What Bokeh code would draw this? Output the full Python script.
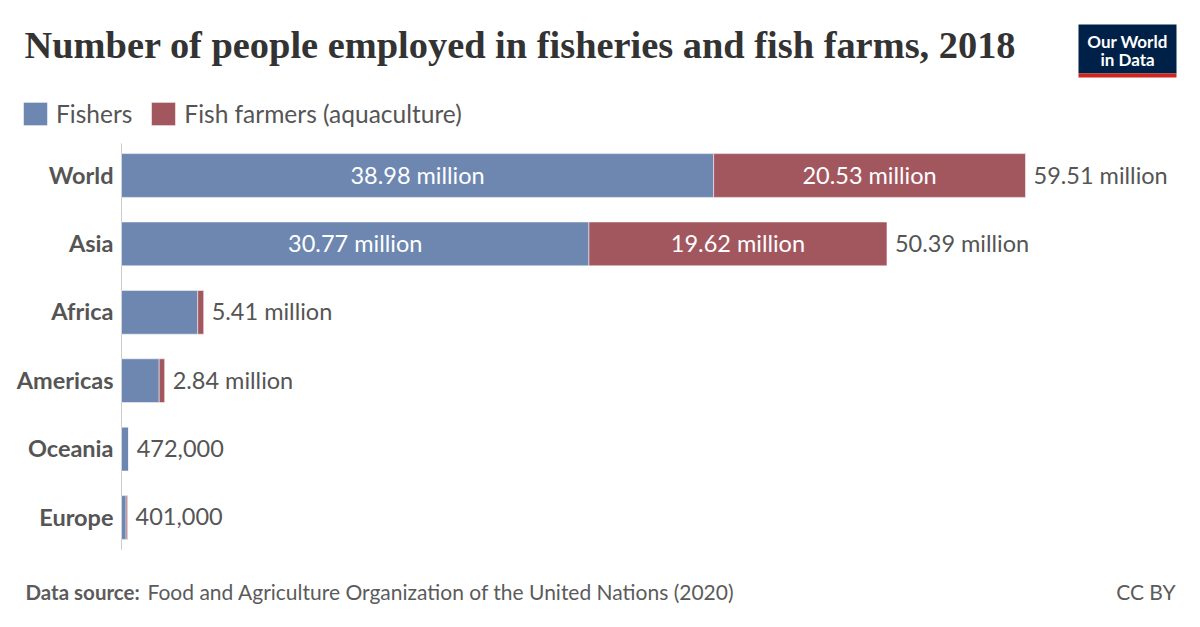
from bokeh.plotting import figure
from bokeh.models import ColumnDataSource, Range1d, Legend, LegendItem
from bokeh.core.properties import value
from bokeh.embed import file_html
from bokeh.resources import INLINE

# Employment in fisheries and aquaculture, 2018 (millions of people)
regions = ["World", "Asia", "Africa", "Americas", "Oceania", "Europe"]
fishers = [38.98, 30.77, 5.02, 2.48, 0.465, 0.305]
fish_farmers = [20.53, 19.62, 0.39, 0.36, 0.007, 0.096]

series = ["fishers", "fish_farmers"]
series_names = ["Fishers", "Fish farmers (aquaculture)"]
colors = ["#6D87B1", "#A2575F"]

BODY = value("Lato")
TEXT_GREY = "#555555"
FOOT_GREY = "#5b5b5b"
LABEL_SIZE = "23.5px"


def fmt(v):
    if v >= 1:
        return f"{v:.2f} million"
    return f"{round(v * 1e6):,}"


totals = [a + b for a, b in zip(fishers, fish_farmers)]
rows = list(range(len(regions)))
src = ColumnDataSource(dict(
    row=rows,
    region=regions,
    fishers=fishers,
    fish_farmers=fish_farmers,
    total=totals,
    total_txt=[fmt(t) for t in totals],
))

# inner labels only for segments wide enough to hold them
inner = dict(row=[], x=[], txt=[])
for i, a, b in zip(rows, fishers, fish_farmers):
    for start, val in ((0.0, a), (a, b)):
        if val > 10:
            inner["row"].append(i)
            inner["x"].append(start + val / 2)
            inner["txt"].append(fmt(val))
inner_src = ColumnDataSource(inner)

# page geometry (pixels): the plot frame covers the whole page
W, H = 1200, 627
AXIS_X = 121          # zero line
BAR_END_MAX = 1025    # end of the longest bar
ROW0 = 175            # centre of the first row
ROW_STEP = 68.4       # distance between rows

px_per_unit = (BAR_END_MAX - AXIS_X) / max(totals)
x0 = -AXIS_X / px_per_unit
x1 = (W - AXIS_X) / px_per_unit
y_top = -ROW0 / ROW_STEP
y_bot = (H - ROW0) / ROW_STEP


def px_x(px):
    return x0 + px / px_per_unit


def px_y(py):
    return y_top + py / ROW_STEP


p = figure(width=W, height=H, output_backend="svg", toolbar_location=None,
           x_range=Range1d(x0, x1), y_range=Range1d(y_bot, y_top),
           x_axis_type=None, y_axis_type=None, min_border=0)
p.outline_line_color = None
p.background_fill_color = "white"
p.border_fill_color = "white"
p.xgrid.visible = False
p.ygrid.visible = False

# vertical zero axis
p.segment(x0=[0], y0=[-0.47], x1=[0], y1=[len(regions) - 0.53],
          line_color="#cccccc", line_width=1)

rends = p.hbar_stack(series, y="row", height=0.64, color=colors,
                     line_color="white", line_width=0.5, source=src)

# category labels
p.text(x=0, y="row", text="region", source=src, x_offset=-8, y_offset=-1,
       text_align="right", text_baseline="middle", text_color=TEXT_GREY,
       text_font=BODY, text_font_style="bold", text_font_size=LABEL_SIZE)

# segment and total labels
p.text(x="x", y="row", text="txt", source=inner_src, y_offset=-1, text_align="center",
       text_baseline="middle", text_color="white", text_font=BODY,
       text_font_size=LABEL_SIZE)
p.text(x="total", y="row", text="total_txt", source=src, x_offset=8, y_offset=-1,
       text_align="left", text_baseline="middle", text_color=TEXT_GREY,
       text_font=BODY, text_font_size=LABEL_SIZE)

# legend swatches are drawn inset by 10% of the glyph box on each side
legend = Legend(items=[LegendItem(label=n, renderers=[r]) for n, r in zip(series_names, rends)],
                orientation="horizontal", location=(20, H - 128),
                glyph_width=30, glyph_height=29, label_height=29,
                label_text_font="Lato", label_text_font_size="24.5px",
                label_text_color=TEXT_GREY, label_standoff=6, spacing=16,
                padding=0, margin=0, border_line_alpha=0, background_fill_alpha=0)
p.add_layout(legend)

# title
p.text(x=[px_x(24)], y=[px_y(44)],
       text=["Number of people employed in fisheries and fish farms, 2018"],
       text_font=value("Liberation Serif"), text_font_style="bold",
       text_font_size="38.4px", text_color="#333333", text_baseline="middle")

# logo
p.quad(left=[px_x(1078)], right=[px_x(1176)], top=[px_y(24)], bottom=[px_y(73)],
       fill_color="#002147", line_color=None)
p.quad(left=[px_x(1078)], right=[px_x(1176)], top=[px_y(73)], bottom=[px_y(77)],
       fill_color="#CE261E", line_color=None)
p.text(x=[px_x(1127)] * 2, y=[px_y(40.5), px_y(59)], text=["Our World", "in Data"],
       text_font=BODY, text_font_size="17px", text_font_style="bold",
       text_color="white", text_align="center", text_baseline="middle")

# footer
p.text(x=[px_x(25)], y=[px_y(591)], text=["Data source:"], text_font=BODY,
       text_font_style="bold", text_font_size="20.5px", text_color=FOOT_GREY,
       text_baseline="middle")
p.text(x=[px_x(147)], y=[px_y(591)],
       text=["Food and Agriculture Organization of the United Nations (2020)"],
       text_font=BODY, text_font_size="21px", text_color=FOOT_GREY,
       text_baseline="middle")
p.text(x=[px_x(1175)], y=[px_y(591)], text=["CC BY"], text_font=BODY,
       text_font_size="21px", text_color=FOOT_GREY, text_align="right",
       text_baseline="middle")

open("out.html", "w").write(file_html(p, INLINE))
